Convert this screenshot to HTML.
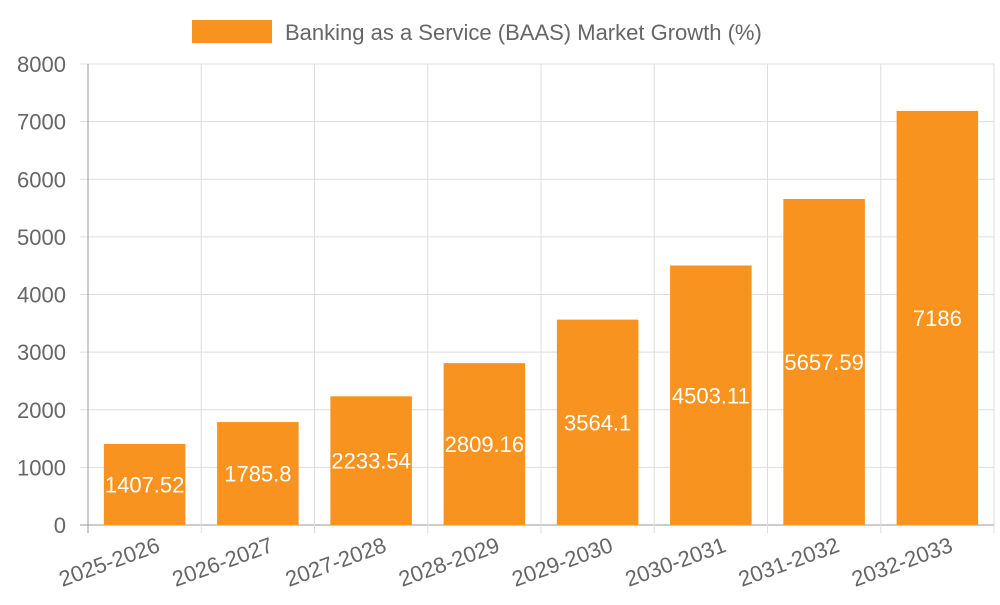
<!DOCTYPE html>
<html><head><meta charset="utf-8"><style>
body{margin:0;background:#fff;}
svg text{font-family:"Liberation Sans",sans-serif;}
</style></head><body>
<svg id="chart" width="1000" height="600" xmlns="http://www.w3.org/2000/svg">
<g id="legend">
<rect x="192" y="20" width="80" height="23" fill="#f7931e"/>
<text x="285" y="40" font-size="22" fill="#666">Banking as a Service (BAAS) Market Growth (%)</text>
</g>
<g id="grid"></g><g id="bars"></g><g id="labels"></g>
</svg>
<script>
const categories=["2025-2026","2026-2027","2027-2028","2028-2029","2029-2030","2030-2031","2031-2032","2032-2033"];
const values=[1407.52,1785.8,2233.54,2809.16,3564.1,4503.11,5657.59,7186];
const yTicks=[0,1000,2000,3000,4000,5000,6000,7000,8000];
const L=88,R=994,T=64,B=525,yMax=8000;
const ns="http://www.w3.org/2000/svg";
const y=v=>B-(v/yMax)*(B-T);
const cw=(R-L)/categories.length;
const x=i=>L+cw*i;
function mk(t,a,p){const e=document.createElementNS(ns,t);for(const k in a)e.setAttribute(k,a[k]);p.appendChild(e);return e;}
const g=document.getElementById('grid'),bg=document.getElementById('bars'),lg=document.getElementById('labels');
yTicks.forEach(v=>{
 const l=mk('line',{x1:L-8,x2:R,y1:y(v),y2:y(v),stroke:v===0?'#999':'#ddd','stroke-width':1},g);
 
 
 const t=mk('text',{x:66,y:y(v)+8,'text-anchor':'end','font-size':22,fill:'#666'},g);
 t.textContent=v;
 
 
});
for(let i=0;i<=categories.length;i++){
 const l=mk('line',{x1:x(i),x2:x(i),y1:T,y2:B+8,stroke:i===0?'#999':'#ddd','stroke-width':1},g);
 
 
}
categories.forEach((c,i)=>{
 const bw=cw*0.72,bx=x(i)+(cw-bw)/2;
 const r=mk('rect',{x:bx,y:y(values[i]),width:bw,height:B-y(values[i]),fill:'#f7931e'},bg);
 
 
 const vt=mk('text',{x:bx+bw/2,y:(y(values[i])+B)/2+8,'text-anchor':'middle','font-size':22,fill:'#fff'},lg);
 vt.textContent=values[i];
 
 
 const xt=mk('text',{x:x(i+1)-40,y:B+26,'text-anchor':'end','font-size':22,fill:'#666',transform:`rotate(-20 ${x(i+1)-40} ${B+26})`},lg);
 xt.textContent=c;
 
 
});
</script>
</body></html>
